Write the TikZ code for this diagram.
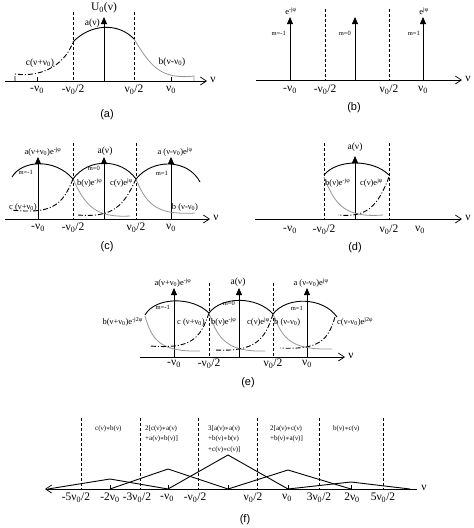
\documentclass[tikz,border=0pt]{standalone}
\usepackage{fontspec}
\setmainfont{Liberation Serif}
\setsansfont{Liberation Sans}
\usetikzlibrary{arrows.meta}
\definecolor{tailgray}{RGB}{150,150,150}
\newcommand{\nz}{ν\textsubscript{0}}
\newcommand{\half}{\nz/2}
\newcommand{\ejp}[1]{e\textsuperscript{#1jφ}}
\tikzset{
  axis/.style={line width=0.8pt,-{Straight Barb[length=6pt,width=8pt,line width=0.7pt]}},
  spike/.style={line width=0.8pt,-{Triangle[length=7pt,width=6pt]}},
  guide/.style={line width=0.7pt,dash pattern=on 3pt off 2pt},
  arch/.style={line width=0.9pt},
  lowtail/.style={line width=0.8pt,draw=tailgray},
  uptail/.style={line width=0.9pt,dash pattern=on 5pt off 2pt on 1pt off 2pt},
  ticklab/.style={font=\fontsize{11.5}{12}\selectfont,inner sep=0pt},
  curvelab/.style={font=\fontsize{9.5}{11}\selectfont,inner sep=0pt},
  smalllab/.style={font=\fontsize{8.5}{9}\selectfont,inner sep=0pt},
  mlab/.style={font=\fontsize{6.5}{7}\selectfont,inner sep=0pt},
  convlab/.style={font=\fontsize{7}{10.5}\selectfont,inner sep=0pt,align=left,anchor=north west},
  caption/.style={font=\fontsize{11}{13}\sffamily,inner sep=0pt},
}
\begin{document}
\begin{tikzpicture}[x=1pt,y=-1pt]
  \useasboundingbox (0,0) rectangle (474,528);
  % (a)
  \draw[axis] (5,81) -- (207,81);
  \node[ticklab] (nua) at (213,80) {ν};
  \foreach \x in {73,134} \draw[guide] (\x,12) -- (\x,81);
  \foreach \x in {37,171} \draw[line width=0.8pt] (\x,81) -- (\x,77);
  \draw[spike] (104,81) -- (104,17);
  \node[ticklab] (u0) at (104,8) {U\textsubscript{0}(ν)};
  \node[curvelab,anchor=east] (aa) at (100,23) {a(ν)};
  \draw[arch] (73,42) .. controls (90,24) and (118,22) .. (134,39);
  \draw[uptail] (15,81) -- (15,74) .. controls (45,78) and (66,62) .. (73,42);
  \draw[lowtail] (134,39) .. controls (150,65) and (160,80) .. (194,76) -- (194,81);
  \node[curvelab] (ca) at (40,63) {c(ν+\nz)};
  \node[curvelab] (ba) at (172,62) {b(ν-\nz)};
  \foreach \x/\t [count=\i] in {37/-\nz,73/-\half,134/\half,171/\nz}
    \node[ticklab] (ta\i) at (\x,90) {\t};
  \node[caption] (capa) at (107,115) {(a)};
  % (b)
  \draw[axis] (256,80) -- (462,80);
  \node[ticklab] (nub) at (468,79) {ν};
  \foreach \x in {325,389} \draw[guide] (\x,9) -- (\x,80);
  \foreach \x in {290,355,423} \draw[spike] (\x,80) -- (\x,17);
  \node[smalllab] (em) at (291,11) {\ejp{-}};
  \node[smalllab] (ep) at (424,11) {\ejp{}};
  \node[mlab,anchor=east] (mb1) at (286,33) {m=-1};
  \node[mlab,anchor=east] (mb2) at (351,33) {m=0};
  \node[mlab,anchor=east] (mb3) at (420,33) {m=1};
  \foreach \x/\t [count=\i] in {290/-\nz,325/-\half,389/\half,423/\nz}
    \node[ticklab] (tb\i) at (\x,90) {\t};
  \node[caption] (capb) at (354,108) {(b)};
  % (c)
  \draw[axis] (5,219) -- (210,219);
  \node[ticklab] (nuc) at (216,218) {ν};
  \foreach \x in {73,136} \draw[guide] (\x,143) -- (\x,219);
  \foreach \x in {38,104,171} \draw[spike] (\x,219) -- (\x,157);
  \draw[arch] (12,177) .. controls (22,160) and (55,158) .. (73,179);
  \draw[arch] (73,179) .. controls (88,158) and (121,158) .. (136,179);
  \draw[arch] (136,179) .. controls (153,158) and (188,159) .. (200,182);
  \draw[lowtail] (73,179) .. controls (85,205) and (95,218) .. (130,216);
  \draw[uptail] (136,179) .. controls (124,205) and (114,218) .. (78,215);
  \draw[uptail] (73,179) .. controls (62,207) and (50,214) .. (11,210);
  \draw[lowtail] (136,179) .. controls (147,207) and (160,215) .. (195,213);
  \node[smalllab] (ac1) at (43,152) {a(ν+\nz)\ejp{-}};
  \node[curvelab] (ac2) at (105,151) {a(ν)};
  \node[smalllab] (ac3) at (175,152) {a (ν-\nz)\ejp{}};
  \node[mlab,anchor=east] (mc1) at (33,172) {m=-1};
  \node[mlab,anchor=east] (mc2) at (100,168) {m=0};
  \node[mlab,anchor=east] (mc3) at (168,173) {m=1};
  \node[smalllab,anchor=west] (bc) at (77,183) {b(ν)\ejp{-}};
  \node[smalllab,anchor=east] (cc) at (133,183) {c(ν)\ejp{}};
  \node[smalllab] (cc0) at (23,207) {c (ν+\nz)};
  \node[smalllab] (bc0) at (185,207) {b (ν-\nz)};
  \foreach \x/\t [count=\i] in {38/-\nz,73/-\half,136/\half,171/\nz}
    \node[ticklab] (tc\i) at (\x,228) {\t};
  \node[caption] (capc) at (107,247) {(c)};
  % (d)
  \draw[axis] (255,219) -- (462,219);
  \node[ticklab] (nud) at (468,218) {ν};
  \foreach \x in {324,389} \draw[guide] (\x,143) -- (\x,219);
  \draw[spike] (355,219) -- (355,156);
  \node[curvelab] (ad) at (355,147) {a(ν)};
  \draw[arch] (324,175) .. controls (337,159) and (373,159) .. (389,175);
  \draw[lowtail] (324,177) .. controls (335,205) and (345,218) .. (383,215);
  \draw[uptail] (389,177) .. controls (378,205) and (368,218) .. (338,215);
  \node[smalllab,anchor=west] (bd) at (325,183) {b(ν)\ejp{-}};
  \node[smalllab,anchor=west] (cd) at (360,183) {c(ν)\ejp{}};
  \foreach \x/\t [count=\i] in {290/-\nz,324/-\half,389/\half,420/\nz}
    \node[ticklab] (td\i) at (\x,230) {\t};
  \node[caption] (capd) at (355,248) {(d)};
  % (e)
  \draw[axis] (140,357) -- (345,357);
  \node[ticklab] (nue) at (351,356) {ν};
  \foreach \x in {209,273} \draw[guide] (\x,283) -- (\x,357);
  \foreach \x in {174,239,307} \draw[spike] (\x,357) -- (\x,288);
  \draw[arch] (145,315) .. controls (155,297) and (192,296) .. (209,313);
  \draw[arch] (209,313) .. controls (222,296) and (257,296) .. (273,314);
  \draw[arch] (273,314) .. controls (287,296) and (323,297) .. (337,317);
  \draw[lowtail] (145,316) .. controls (152,340) and (160,352) .. (200,351);
  \draw[uptail] (209,313) .. controls (200,340) and (190,349) .. (150,346);
  \draw[lowtail] (209,313) .. controls (218,340) and (228,352) .. (265,351);
  \draw[uptail] (273,314) .. controls (265,340) and (255,352) .. (215,350);
  \draw[lowtail] (273,314) .. controls (283,340) and (292,350) .. (332,349);
  \draw[uptail] (335,317) .. controls (328,340) and (320,350) .. (280,348);
  \node[smalllab] (ae1) at (173,283) {a(ν+\nz)\ejp{-}};
  \node[curvelab] (ae2) at (238,282) {a(ν)};
  \node[smalllab] (ae3) at (311,283) {a (ν-\nz)\ejp{}};
  \node[mlab,anchor=east] (me1) at (170,307) {m=-1};
  \node[mlab,anchor=east] (me2) at (235,303) {m=0};
  \node[mlab,anchor=east] (me3) at (303,308) {m=1};
  \node[smalllab,anchor=east] (be2) at (143,322) {b(ν+\nz)e\textsuperscript{-j2φ}};
  \node[smalllab,anchor=west] (ce1) at (177,322) {c (ν+\nz)};
  \node[smalllab,anchor=west] (be1) at (211,322) {b(ν)\ejp{-}};
  \node[smalllab,anchor=east] (ce0) at (270,322) {c(ν)\ejp{}};
  \node[smalllab,anchor=west] (be0) at (274,322) {b (ν-\nz)};
  \node[smalllab,anchor=west] (ce2) at (337,322) {c(ν-\nz)e\textsuperscript{j2φ}};
  \foreach \x/\t [count=\i] in {174/-\nz,209/-\half,273/\half,307/\nz}
    \node[ticklab] (te\i) at (\x,364) {\t};
  \node[caption] (cape) at (248,383) {(e)};
  % (f)
  \draw[axis,{Straight Barb[length=6pt,width=8pt,line width=0.7pt]}-] (45,489) -- (417,489);
  \node[ticklab] (nuf) at (424,488) {ν};
  \foreach \x in {81,140,198,257,319,383} \draw[guide] (\x,418) -- (\x,489);
  \foreach \x in {110,168,228,288,351} \draw[line width=0.7pt] (\x,489) -- (\x,485);
  \draw[line width=0.9pt] (48,489) -- (110,479) -- (168,489);
  \draw[line width=0.9pt] (110,489) -- (168,469) -- (228,489);
  \draw[line width=0.9pt] (168,489) -- (228,455) -- (288,489);
  \draw[line width=0.9pt] (228,489) -- (288,470) -- (351,489);
  \draw[line width=0.9pt] (288,489) -- (351,482) -- (410,489);
  \node[convlab] (f1) at (95,425) {c(ν)$\ast$b(ν)};
  \node[convlab] (f2) at (145,425) {2[c(ν)$\ast$a(ν)\\+a(ν)$\ast$b(ν)]};
  \node[convlab] (f3) at (208,425) {3[a(ν)$\ast$a(ν)\\+b(ν)$\ast$b(ν)\\+c(ν)$\ast$c(ν)]};
  \node[convlab] (f4) at (270,425) {2[a(ν)$\ast$c(ν)\\+b(ν)$\ast$a(ν)]};
  \node[convlab] (f5) at (333,425) {b(ν)$\ast$c(ν)};
  \foreach \x/\t [count=\i] in {76/-5\half,110/-2\nz,137/-3\half,167/-\nz,195/-\half,253/\half,287/\nz,319/3\half,352/2\nz,383/5\half}
    \node[ticklab] (tf\i) at (\x,498) {\t};
  \node[caption] (capf) at (245,520) {(f)};
\end{tikzpicture}
\end{document}
